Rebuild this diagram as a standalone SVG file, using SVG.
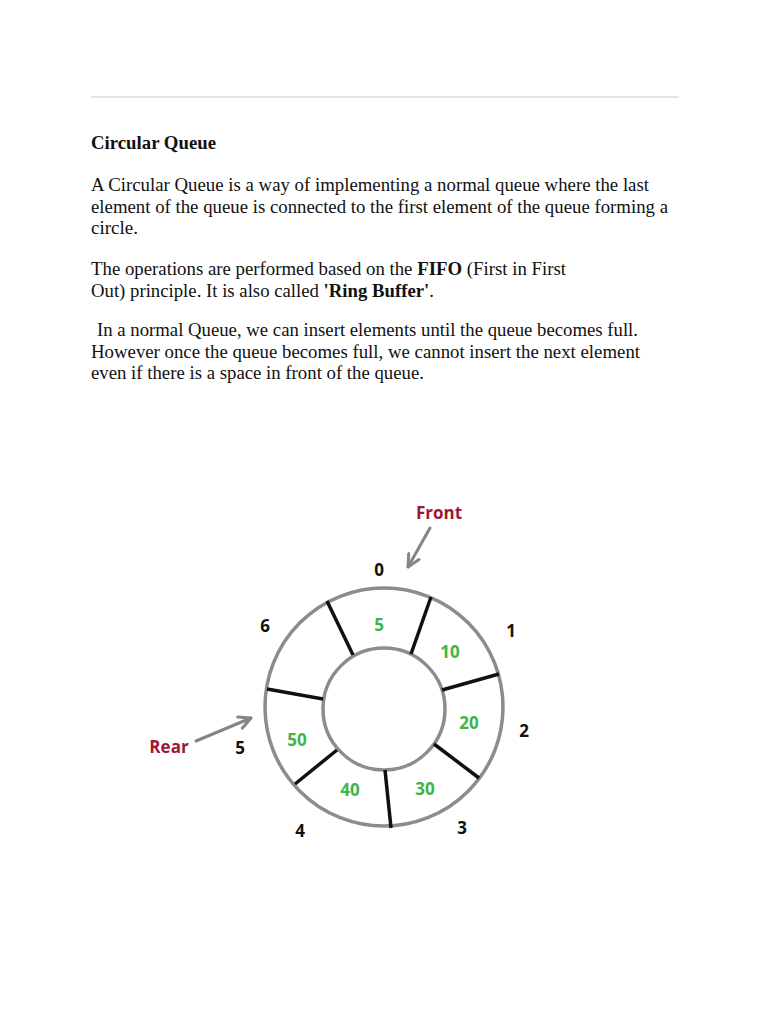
<svg xmlns="http://www.w3.org/2000/svg" width="768" height="1024" viewBox="0 0 768 1024">
<defs>
<style>
.body{font-family:"Liberation Serif","Times New Roman",serif;font-size:18.5px;fill:#111}
.b{font-weight:bold}
.lbl{font-family:"Open Sans","Noto Sans",sans-serif;font-weight:700;font-size:17px;text-anchor:middle}
.idx{fill:#111}
.val{fill:#3db54a}
.ptr{fill:#9c1836}
.ring{fill:none;stroke:#8c8c8c;stroke-width:3.5}
.spoke{stroke:#111;stroke-width:3.5;stroke-linecap:butt}
.arr{fill:none;stroke:#858585;stroke-width:3;stroke-linecap:round;stroke-linejoin:round}
</style>
<marker id="ah" viewBox="0 0 10 10" refX="9" refY="5" markerWidth="5" markerHeight="5" orient="auto" markerUnits="strokeWidth">
<path d="M1,1 L9,5 L1,9" fill="none" stroke="#858585" stroke-width="2" stroke-linecap="round" stroke-linejoin="round"/>
</marker>
</defs>
<rect width="768" height="1024" fill="#fff"/>
<line x1="91" y1="97" x2="679" y2="97" stroke="#c8c8c8" stroke-width="1.2"/>
<g id="text">
<text class="body b" x="91" y="149" font-size="19" textLength="125" lengthAdjust="spacingAndGlyphs">Circular Queue</text>
<text class="body" x="91" y="191" textLength="558" lengthAdjust="spacingAndGlyphs">A Circular Queue is a way of implementing a normal queue where the last</text>
<text class="body" x="91" y="213" textLength="577" lengthAdjust="spacingAndGlyphs">element of the queue is connected to the first element of the queue forming a</text>
<text class="body" x="91" y="234" textLength="47" lengthAdjust="spacingAndGlyphs">circle.</text>
<text class="body" x="91" y="275" textLength="475" lengthAdjust="spacingAndGlyphs">The operations are performed based on the <tspan class="b">FIFO</tspan> (First in First</text>
<text class="body" x="91" y="297" textLength="343" lengthAdjust="spacingAndGlyphs">Out) principle. It is also called <tspan class="b">'Ring Buffer'</tspan>.</text>
<text class="body" x="97" y="336" textLength="541" lengthAdjust="spacingAndGlyphs">In a normal Queue, we can insert elements until the queue becomes full.</text>
<text class="body" x="91" y="358" textLength="549" lengthAdjust="spacingAndGlyphs">However once the queue becomes full, we cannot insert the next element</text>
<text class="body" x="91" y="379" textLength="333" lengthAdjust="spacingAndGlyphs">even if there is a space in front of the queue.</text>
</g>
<g id="ring">
<circle class="ring" cx="384" cy="707" r="119"/>
<circle class="ring" cx="384" cy="709" r="61"/>
</g>
<g id="spokes">
<line class="spoke" x1="327" y1="601" x2="353" y2="655"/>
<line class="spoke" x1="431" y1="597" x2="411" y2="654"/>
<line class="spoke" x1="499" y1="674" x2="442" y2="690"/>
<line class="spoke" x1="479" y1="778" x2="434" y2="744"/>
<line class="spoke" x1="391" y1="828" x2="385" y2="770"/>
<line class="spoke" x1="295" y1="784" x2="337" y2="750"/>
<line class="spoke" x1="267" y1="689" x2="323" y2="699"/>
</g>
<g id="connectors">
<line class="arr" x1="430" y1="528" x2="408" y2="567" marker-end="url(#ah)"/>
<line class="arr" x1="196" y1="741" x2="251" y2="718" marker-end="url(#ah)"/>
</g>
<g id="labels">
<text class="lbl ptr" x="439" y="519">Front</text>
<text class="lbl ptr" x="169" y="753">Rear</text>
<text class="lbl idx" x="379" y="576">0</text>
<text class="lbl idx" x="511" y="637">1</text>
<text class="lbl idx" x="524" y="737">2</text>
<text class="lbl idx" x="462" y="834">3</text>
<text class="lbl idx" x="300" y="837">4</text>
<text class="lbl idx" x="240" y="754">5</text>
<text class="lbl idx" x="265" y="632">6</text>
<text class="lbl val" x="379" y="631">5</text>
<text class="lbl val" x="450" y="658">10</text>
<text class="lbl val" x="469" y="729">20</text>
<text class="lbl val" x="425" y="795">30</text>
<text class="lbl val" x="350" y="796">40</text>
<text class="lbl val" x="297" y="746">50</text>
</g>
</svg>
